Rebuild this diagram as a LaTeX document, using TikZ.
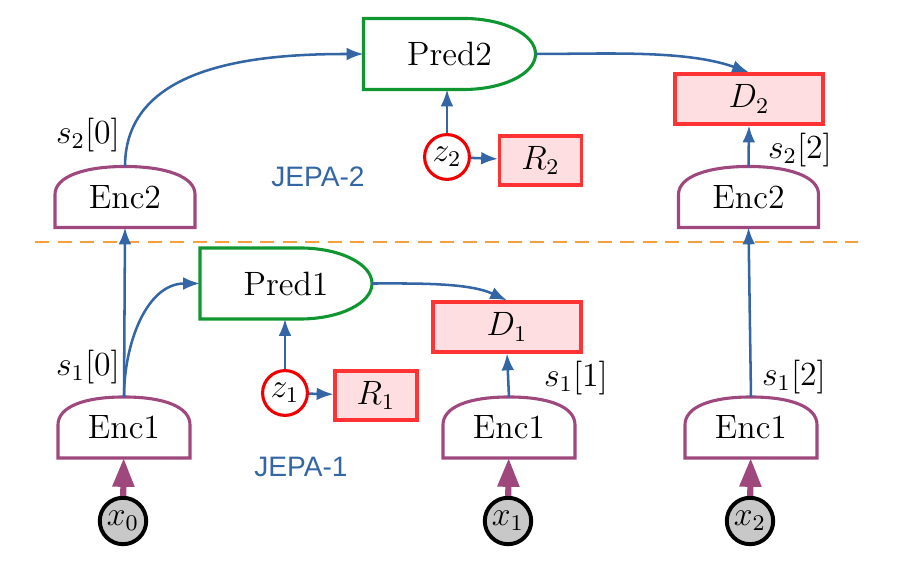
\documentclass[tikz,border=0pt]{standalone}
\usepackage{fontspec}
\newfontfamily\jepafont{Liberation Sans}
\usetikzlibrary{arrows.meta}
\definecolor{encpurple}{RGB}{158,72,126}
\definecolor{predgreen}{RGB}{16,150,48}
\definecolor{boxred}{RGB}{255,51,51}
\definecolor{boxpink}{RGB}{255,222,225}
\definecolor{zred}{RGB}{240,0,0}
\definecolor{arrowblue}{RGB}{52,101,164}
\definecolor{dashorange}{RGB}{245,160,60}
\definecolor{xgray}{RGB}{200,200,200}
\tikzset{
	enc/.style={minimum width=1.65cm,minimum height=0.7625cm,inner sep=0pt,outer sep=0pt,font=\large},
	pred/.style={minimum width=2.15cm,minimum height=0.8875cm,inner sep=0pt,outer sep=0pt,font=\large},
	cost/.style={draw=boxred,fill=boxpink,line width=1.1pt,inner sep=0pt,font=\large},
	lat/.style={circle,draw=zred,fill=white,line width=1.1pt,minimum size=0.56cm,inner sep=0pt,font=\large},
	obs/.style={circle,draw=black,fill=xgray,line width=1.4pt,minimum size=0.58cm,inner sep=0pt,font=\large},
	flow/.style={arrowblue,line width=0.9pt,-{Latex[length=0.21cm,width=0.16cm]}},
	feed/.style={encpurple,line width=2.2pt,-{Triangle[length=0.36cm,width=0.26cm]}},
	lbl/.style={font=\large},
	jepa/.style={font=\jepafont,text=arrowblue}
}
\newcommand{\encoutline}[1]{\draw[encpurple,line width=1.1pt] (#1.south west) -- ([yshift=0.4125cm]#1.south west)
	.. controls ([yshift=0.64cm]#1.south west) and ([xshift=-0.5cm]#1.north) .. (#1.north)
	.. controls ([xshift=0.5cm]#1.north) and ([yshift=0.64cm]#1.south east) .. ([yshift=0.4125cm]#1.south east)
	-- (#1.south east) -- cycle;}
\newcommand{\predoutline}[1]{\draw[predgreen,line width=1.1pt] (#1.north west) -- ([xshift=-0.9cm]#1.north east)
	.. controls ([xshift=-0.4cm]#1.north east) and ([yshift=0.245cm]#1.east) .. (#1.east)
	.. controls ([yshift=-0.245cm]#1.east) and ([xshift=-0.4cm]#1.south east) .. ([xshift=-0.9cm]#1.south east)
	-- (#1.south west) -- cycle;}
\begin{document}
\begin{tikzpicture}[x=0.0125cm,y=-0.0125cm]
	\useasboundingbox (0,0) rectangle (898,580);
	\draw [dashorange,line width=0.8pt,dash pattern=on 5pt off 3pt] (35,242) -- (858,242);
	% encoders
	\node [enc] (e1a) at (124,427.5) {Enc1};
	\node [enc] (e1b) at (509,427.5) {Enc1};
	\node [enc] (e1c) at (751,427.5) {Enc1};
	\node [enc,minimum width=1.75cm] (e2a) at (125,197) {Enc2};
	\node [enc,minimum width=1.75cm] (e2b) at (748.5,197) {Enc2};
	\encoutline{e1a} \encoutline{e1b} \encoutline{e1c}
	\encoutline{e2a} \encoutline{e2b}
	% predictors
	\node [pred] (p1) at (286,283.5) {Pred1};
	\node [pred] (p2) at (449.5,54) {Pred2};
	\predoutline{p1} \predoutline{p2}
	% energies
	\node [cost,minimum width=1.85cm,minimum height=0.625cm] (d1) at (507,327) {$D_1$};
	\node [cost,minimum width=1.85cm,minimum height=0.625cm] (d2) at (749,99) {$D_2$};
	\node [cost,minimum width=1.025cm,minimum height=0.6125cm] (r1) at (376,395.5) {$R_1$};
	\node [cost,minimum width=1.025cm,minimum height=0.6125cm] (r2) at (540.5,160.5) {$R_2$};
	% latents and inputs
	\node [lat] (z1) at (285,393) {$z_1$};
	\node [lat] (z2) at (447,157) {$z_2$};
	\node [obs] (x0) at (123,521) {$x_0$};
	\node [obs] (x1) at (508,521) {$x_1$};
	\node [obs] (x2) at (750,521) {$x_2$};
	% labels
	\node [lbl] (s20) at (88,135) {$s_2[0]$};
	\node [lbl] (s22) at (800,150) {$s_2[2]$};
	\node [lbl] (s10) at (88,367) {$s_1[0]$};
	\node [lbl] (s11) at (576,378) {$s_1[1]$};
	\node [lbl] (s12) at (794,377) {$s_1[2]$};
	\node [jepa] (j2) at (318,177) {JEPA-2};
	\node [jepa] (j1) at (301,467) {JEPA-1};
	% connectors
	\draw [feed] (x0) -- (e1a);
	\draw [feed] (x1) -- (e1b);
	\draw [feed] (x2) -- (e1c);
	\draw [flow] (e1a.north) -- (e2a.south);
	\draw [flow] (e1a.north) to[out=90,in=180] (p1.west);
	\draw [flow] (e2a.north) to[out=90,in=180] (p2.west);
	\draw [flow] (p1.east) to[out=0,in=155,looseness=0.8] (d1.north);
	\draw [flow] (p2.east) to[out=0,in=160,looseness=0.8] (d2.north);
	\draw [flow] (e1b.north) -- (d1.south);
	\draw [flow] (e1c.north) -- (e2b.south);
	\draw [flow] (e2b.north) -- (d2.south);
	\draw [flow] (z1) -- (z1 |- p1.south);
	\draw [flow] (z2) -- (z2 |- p2.south);
	\draw [flow] (z1) -- (r1);
	\draw [flow] (z2) -- (r2);
\end{tikzpicture}
\end{document}
